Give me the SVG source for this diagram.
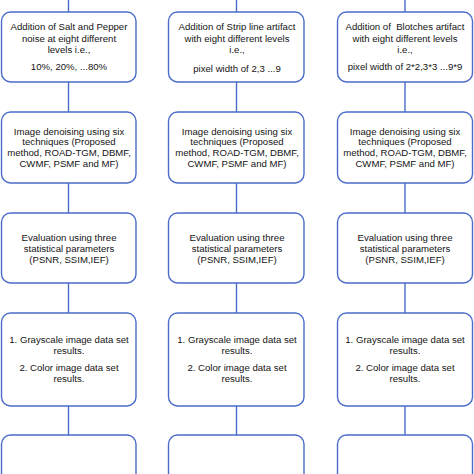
<svg xmlns="http://www.w3.org/2000/svg" width="474" height="474" viewBox="0 0 474 474">
<style>
.box{fill:#ffffff;stroke:#4a6cc8;stroke-width:1.4}
.con{stroke:#4a6cc8;stroke-width:1.4;fill:none}
text{font-family:"Liberation Sans",Arial,sans-serif;font-size:9.6px;fill:#141414;text-anchor:middle}
.pre{white-space:pre}
</style>
<rect width="474" height="474" fill="#ffffff"/>
<g id="connectors">
<line class="con" x1="68.5" y1="0" x2="68.5" y2="12"/>
<line class="con" x1="68.5" y1="82" x2="68.5" y2="112"/>
<line class="con" x1="68.5" y1="183" x2="68.5" y2="213"/>
<line class="con" x1="68.5" y1="283" x2="68.5" y2="313"/>
<line class="con" x1="68.5" y1="406" x2="68.5" y2="435"/>
<line class="con" x1="236.5" y1="0" x2="236.5" y2="12"/>
<line class="con" x1="236.5" y1="82" x2="236.5" y2="112"/>
<line class="con" x1="236.5" y1="183" x2="236.5" y2="213"/>
<line class="con" x1="236.5" y1="283" x2="236.5" y2="313"/>
<line class="con" x1="236.5" y1="406" x2="236.5" y2="435"/>
<line class="con" x1="405" y1="0" x2="405" y2="12"/>
<line class="con" x1="405" y1="82" x2="405" y2="112"/>
<line class="con" x1="405" y1="183" x2="405" y2="213"/>
<line class="con" x1="405" y1="283" x2="405" y2="313"/>
<line class="con" x1="405" y1="406" x2="405" y2="435"/>
</g>
<g id="n1a"><rect class="box" x="1.5" y="12" width="134.5" height="70" rx="9"/>
<text x="69" y="30">Addition of Salt and Pepper</text>
<text x="69" y="41.7">noise at eight different</text>
<text x="69" y="53.4">levels i.e.,</text>
<text x="69" y="70">10%, 20%, ...80%</text></g>
<g id="n1b"><rect class="box" x="168.5" y="12" width="135.5" height="70" rx="9"/>
<text x="237" y="29.5">Addition of Strip line artifact</text>
<text x="237" y="41.7">with eight different levels</text>
<text x="237" y="53.4">i.e.,</text>
<text x="237" y="71.5">pixel width of 2,3 ...9</text></g>
<g id="n1c"><rect class="box" x="337.5" y="12" width="135" height="70" rx="9"/>
<text class="pre" x="405" y="30">Addition of  Blotches artifact</text>
<text x="405" y="41.7">with eight different levels</text>
<text x="405" y="53.4">i.e.,</text>
<text x="405" y="70">pixel width of 2*2,3*3 ...9*9</text></g>
<g id="n2a"><rect class="box" x="1.5" y="112" width="134.5" height="71" rx="9"/>
<text x="69" y="134.5">Image denoising using six</text>
<text x="69" y="145.2">techniques (Proposed</text>
<text x="69" y="155.9">method, ROAD-TGM, DBMF,</text>
<text x="69" y="166.6">CWMF, PSMF and MF)</text></g>
<g id="n2b"><rect class="box" x="168.5" y="112" width="135.5" height="71" rx="9"/>
<text x="237" y="134.5">Image denoising using six</text>
<text x="237" y="145.2">techniques (Proposed</text>
<text x="237" y="155.9">method, ROAD-TGM, DBMF,</text>
<text x="237" y="166.6">CWMF, PSMF and MF)</text></g>
<g id="n2c"><rect class="box" x="337.5" y="112" width="135" height="71" rx="9"/>
<text x="405" y="134.5">Image denoising using six</text>
<text x="405" y="145.2">techniques (Proposed</text>
<text x="405" y="155.9">method, ROAD-TGM, DBMF,</text>
<text x="405" y="166.6">CWMF, PSMF and MF)</text></g>
<g id="n3a"><rect class="box" x="1.5" y="213" width="134.5" height="70" rx="9"/>
<text x="69" y="240.5">Evaluation using three</text>
<text x="69" y="251.8">statistical parameters</text>
<text x="69" y="263">(PSNR, SSIM,IEF)</text></g>
<g id="n3b"><rect class="box" x="168.5" y="213" width="135.5" height="70" rx="9"/>
<text x="237" y="240.5">Evaluation using three</text>
<text x="237" y="251.8">statistical parameters</text>
<text x="237" y="263">(PSNR, SSIM,IEF)</text></g>
<g id="n3c"><rect class="box" x="337.5" y="213" width="135" height="70" rx="9"/>
<text x="405" y="240.5">Evaluation using three</text>
<text x="405" y="251.8">statistical parameters</text>
<text x="405" y="263">(PSNR, SSIM,IEF)</text></g>
<g id="n4a"><rect class="box" x="1.5" y="313" width="134.5" height="93" rx="9"/>
<text x="69" y="343.4">1. Grayscale image data set</text>
<text x="69" y="353.6">results.</text>
<text x="69" y="371">2. Color image data set</text>
<text x="69" y="381.7">results.</text></g>
<g id="n4b"><rect class="box" x="168.5" y="313" width="135.5" height="93" rx="9"/>
<text x="237" y="343.4">1. Grayscale image data set</text>
<text x="237" y="353.6">results.</text>
<text x="237" y="371">2. Color image data set</text>
<text x="237" y="381.7">results.</text></g>
<g id="n4c"><rect class="box" x="337.5" y="313" width="135" height="93" rx="9"/>
<text x="405" y="343.4">1. Grayscale image data set</text>
<text x="405" y="353.6">results.</text>
<text x="405" y="371">2. Color image data set</text>
<text x="405" y="381.7">results.</text></g>
<g id="n5a"><rect class="box" x="1.5" y="435" width="134.5" height="60" rx="9"/></g>
<g id="n5b"><rect class="box" x="168.5" y="435" width="135.5" height="60" rx="9"/></g>
<g id="n5c"><rect class="box" x="337.5" y="435" width="135" height="60" rx="9"/></g>
</svg>
